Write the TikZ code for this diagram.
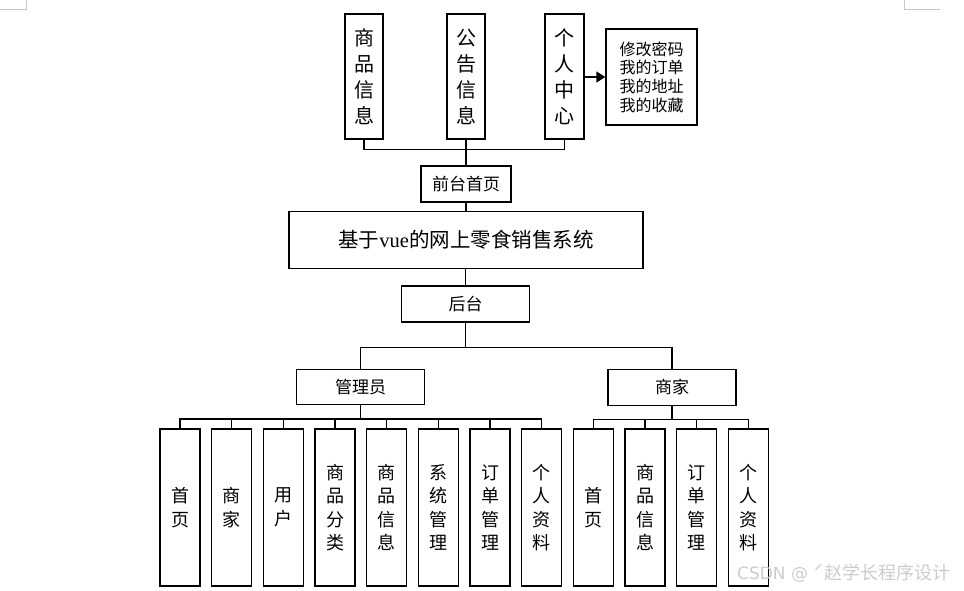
\documentclass[tikz,border=0pt]{standalone}
\usepackage{fontspec}
\setmainfont{Noto Sans CJK SC}
\newfontfamily\latserif{Liberation Serif}
\newfontfamily\wmsans{DejaVu Sans}
\usetikzlibrary{arrows.meta}
\begin{document}
\begin{tikzpicture}[x=1pt,y=-1pt,
  box/.style={draw=black,line width=1.3pt,fill=white,inner sep=0pt,align=center},
  topbox/.style={box,minimum width=38pt,minimum height=125pt,font=\fontsize{20}{26}\selectfont},
  midbox/.style={box,minimum width=128pt,minimum height=36pt,font=\fontsize{17}{20}\selectfont},
  leaf/.style={box,minimum width=40pt,minimum height=157pt,font=\fontsize{18}{23.5}\selectfont},
  conn/.style={draw=black,line width=1.5pt},
  cornermark/.style={draw=gray!45,line width=0.8pt}]
\useasboundingbox (0,0) rectangle (964,591);
\fill[white] (0,0) rectangle (964,591);
% corner marks
\draw[cornermark] (0,9.3) -- (26.3,9.3) -- (26.3,0);
\draw[cornermark] (904.3,0) -- (904.3,9.3) -- (940,9.3);
% top
\node[topbox] (sp) at (364,76.5) {商\\品\\信\\息};
\node[topbox] (gg) at (466,76.5) {公\\告\\信\\息};
\node[topbox,minimum width=39pt] (gr) at (564.5,76.5) {个\\人\\中\\心};
\node[box,minimum width=91pt,minimum height=96pt,font=\fontsize{16}{18.7}\selectfont] (sub) at (651.5,77) {修改密码\\我的订单\\我的地址\\我的收藏};
\draw[conn,-{Triangle[length=9pt,width=11pt]}] (gr.east |- sub.west) -- (sub.west);
\node[box,minimum width=90pt,minimum height=36pt,font=\fontsize{17}{20}\selectfont] (qt) at (466,184) {前台首页};
\coordinate (tb) at (466,149.3);
\draw[conn] (sp.south) |- (tb) -| (gr.south);
\draw[conn] (gg.south) -- (qt.north);
% system
\node[box,minimum width=354pt,minimum height=57pt,font=\fontsize{20.5}{24}\selectfont] (sys) at (466,240) {基于{\latserif vue}的网上零食销售系统};
\draw[conn] (qt.south) -- (qt.south |- sys.north);
\node[midbox] (ht) at (465.5,304) {后台};
\draw[conn] (ht.north) -- (ht.north |- sys.south);
\node[midbox,minimum height=35pt] (gly) at (360.5,386.7) {管理员};
\node[midbox] (sj) at (672,387.3) {商家};
\coordinate (hb) at (465.5,347.7);
\draw[conn] (ht.south) -- (hb);
\draw[conn] (gly.north) |- (hb) -| (sj.north);
% leaves
\foreach \i/\t in {0/{首\\页},1/{商\\家},2/{用\\户},3/{商\\品\\分\\类},4/{商\\品\\信\\息},5/{系\\统\\管\\理},6/{订\\单\\管\\理},7/{个\\人\\资\\料},8/{首\\页},9/{商\\品\\信\\息},10/{订\\单\\管\\理},11/{个\\人\\资\\料}}
  \node[leaf] (b\i) at (180+51.67*\i,507.5) {\t};
\coordinate (ab) at (360.5,419);
\draw[conn] (gly.south) -- (ab);
\draw[conn] (b0.north) |- (ab) -| (b7.north);
\foreach \i in {1,...,6} \draw[conn] (b\i.north) -- (b\i.north |- ab);
\coordinate (mb) at (672,419.3);
\draw[conn] (sj.south) -- (mb);
\draw[conn] (b8.north) |- (mb) -| (b11.north);
\foreach \i in {9,10} \draw[conn] (b\i.north) -- (b\i.north |- mb);
% watermark
\node[anchor=west,text=gray!40,inner sep=0pt,font=\fontsize{18}{18}\selectfont] (wm) at (737,573) {{\wmsans\fontsize{17}{18}\selectfont CSDN @ }ˊ赵学长程序设计};
\end{tikzpicture}
\end{document}
